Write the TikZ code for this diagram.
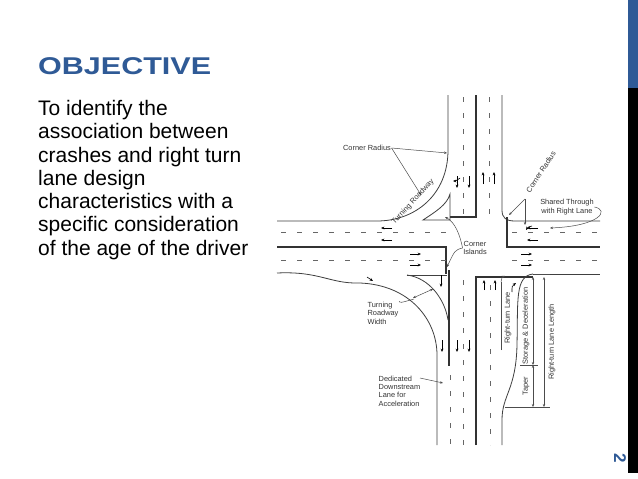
\documentclass[tikz,border=0pt]{standalone}
\usepackage{fontspec}
\setmainfont{Liberation Sans}
\usetikzlibrary{arrows.meta}
\definecolor{tblue}{HTML}{2F5A96}
\begin{document}
\begin{tikzpicture}[x=1pt,y=-1pt,
  edge/.style={line width=0.8pt,draw=black!75},
  med/.style={line width=1.4pt,draw=black!80},
  dsh/.style={line width=0.6pt,draw=black!60,dash pattern=on 5pt off 11pt},
  lbl/.style={font=\fontsize{7.4}{8.4}\selectfont,text=black!80,inner sep=0.5pt},
  ptr/.style={line width=0.5pt,draw=black!70,-{Stealth[length=3pt,width=2.4pt]}},
  lar/.style={line width=0.6pt,-{Stealth[length=3.4pt,width=2.8pt]}},
  body/.style={font=\fontsize{21}{23.3}\selectfont,anchor=north west,align=left,inner sep=0pt}]
\useasboundingbox (0,0) rectangle (638,479);
\fill[white] (0,0) rectangle (638,479);
% right strip
\fill[tblue] (628,0) rectangle (638,88);
\fill[black] (628,88) rectangle (638,473);
\node[font=\bfseries\fontsize{17}{17}\selectfont,text=tblue,rotate=-90] (pg) at (620,458) {2};
% title and text
\node[font=\bfseries\fontsize{25}{25}\selectfont,text=tblue,anchor=base west,inner sep=0pt,xscale=1.22,yscale=0.97] (title) at (38,74) {OBJECTIVE};
\node[body] (txt) at (38,100) {To identify the\\association between\\crashes and right turn\\lane design\\characteristics with a\\specific consideration\\of the age of the driver};
% ---------- roads -------------
\draw[edge] (448,95) -- (448,150) .. controls (448,195) and (415,221) .. (377,221) -- (277,221);
\draw[edge] (502,95) -- (502,210) .. controls (502,218) and (506,221) .. (515,221) -- (600,221);
\draw[med] (476,95) -- (476,217) -- (450,217);
\draw[med] (277,247) -- (446,247) -- (446,274);
\draw[med] (507,217) -- (507,247) -- (600,247);
\draw[edge] (277,273) .. controls (320,271) and (330,284) .. (360,283)
  .. controls (410,285) and (437,320) .. (437,355) -- (437,445);
\draw[edge] (407,275) -- (447,275);
\draw[edge] (407,275) .. controls (430,278) and (445,300) .. (448,320);
\draw[med] (449,270) -- (449,366);
\draw[med] (476,445) -- (476,277) -- (533,277);
\draw[edge] (533,274) -- (600,274);
\draw[edge] (533,274) .. controls (515,276) and (518,300) .. (517,345)
  .. controls (516,390) and (502,395) .. (502,420) -- (502,445);
\draw[edge] (423,220) .. controls (435,212) and (447,205) .. (450,194) -- (450,220) -- cycle;
% dashed lane lines
\draw[dsh] (463,97) -- (463,215);
\draw[dsh] (489,97) -- (489,221);
\draw[dsh] (281,232) -- (446,232);
\draw[dsh] (281,260) -- (446,260);
\draw[dsh] (512,232) -- (600,232);
\draw[dsh] (512,260) -- (600,260);
\draw[dsh] (463,280) -- (463,445);
\draw[dsh] (450,375) -- (450,445);
\draw[dsh] (490,285) -- (490,445);
% lane arrows
\draw[lar] (457,176) -- (457,188);
\draw[lar] (469,176) -- (469,188);
\draw[lar] (460,178) .. controls (456,181) .. (453,181);
\draw[lar] (483,184) -- (483,172);
\draw[lar] (494,184) -- (494,172);
\draw[lar] (392,228) -- (381,228);
\draw[lar] (392,240) -- (381,240);
\draw[lar] (410,254) -- (421,254);
\draw[lar] (410,265) -- (421,265);
\draw[lar] (538,228) -- (527,228);
\draw[lar] (538,240) -- (527,240);
\draw[lar] (521,254) -- (532,254);
\draw[lar] (521,265) -- (532,265);
\draw[lar] (532,226) .. controls (528,227) .. (526,230);
\draw[lar] (441,275) -- (441,287);
\draw[lar] (442,340) -- (442,352);
\draw[lar] (457,340) -- (457,352);
\draw[lar] (469,340) -- (469,352);
\draw[lar] (484,290) -- (484,280);
\draw[lar] (495,290) -- (495,280);
\draw[lar] (512,292) .. controls (512,286) .. (516,283);
\draw[lar] (367,277) -- (373,281);
% ---------- labels -------------
\node[lbl] (cr1) at (367,148) {Corner Radius};
\draw[ptr] (cr1.east) -- (447,153);
\draw[ptr] (cr1.east) -- (421,195);
\node[lbl,rotate=47] (tr) at (413,202) {Turning Roadway};
\node[lbl,rotate=57] (cr2) at (541,172) {Corner Radius};
\coordinate (cr2f) at (525,199);
\draw[ptr] (cr2f) -- (509,215);
\draw[ptr] (cr2f) -- (525,225);
\node[lbl,align=center] (st) at (567,207) {Shared Through\\with Right Lane};
\draw[ptr] (st.east) .. controls (610,210) and (600,226) .. (550,228);
\node[lbl,align=center] (ci) at (475,248) {Corner\\Islands};
\draw[ptr] (ci.west) .. controls (460,235) and (455,222) .. (445,217);
\draw[ptr] (ci.west) .. controls (455,250) .. (447,267);
\node[lbl,align=left] (trw) at (383,313) {Turning\\Roadway\\Width};
\draw[line width=0.5pt,draw=black!70] (trw.north east) .. controls (400,303) .. (414,299);
\draw[line width=0.5pt,draw=black!70,{Stealth[length=3pt,width=2.4pt]}-{Stealth[length=3pt,width=2.4pt]}] (413,298) -- (433,289);
\node[lbl,align=left,anchor=north west] (dd) at (378,375) {Dedicated\\Downstream\\Lane for\\Acceleration};
\draw[ptr] (420,378) -- (443,383);
\node[lbl,rotate=90] (rtl) at (508,318) {Right-turn Lane};
\draw[line width=0.5pt,draw=black!70] (501,350) -- (501,282);
\draw[ptr] (501,282) .. controls (502,277) .. (505,276);
\node[lbl,rotate=90,fill=white] (sd) at (526,326) {Storage \& Deceleration};
\node[lbl,rotate=90,fill=white] (tp) at (526,386) {Taper};
\node[lbl,rotate=90,fill=white] (rtll) at (552,342) {Right-turn Lane Length};
\coordinate (d1) at (533,277);
\coordinate (d2) at (533,365);
\coordinate (d3) at (533,407);
\coordinate (e1) at (544,277);
\coordinate (e2) at (544,407);
\draw[line width=0.5pt,draw=black!70,{Stealth[length=3pt,width=2.4pt]}-{Stealth[length=3pt,width=2.4pt]}] (d1) -- (d2);
\draw[line width=0.5pt,draw=black!70,{Stealth[length=3pt,width=2.4pt]}-{Stealth[length=3pt,width=2.4pt]}] (d2) -- (d3);
\draw[line width=0.5pt,draw=black!70,{Stealth[length=3pt,width=2.4pt]}-{Stealth[length=3pt,width=2.4pt]}] (e1) -- (e2);
\draw[line width=0.5pt,draw=black!70] (520,365) -- (538,365);
\draw[line width=0.5pt,draw=black!70] (505,407) -- (550,407);
\draw[line width=0.5pt,draw=black!70] (534,274) -- (550,274);
\end{tikzpicture}
\end{document}
